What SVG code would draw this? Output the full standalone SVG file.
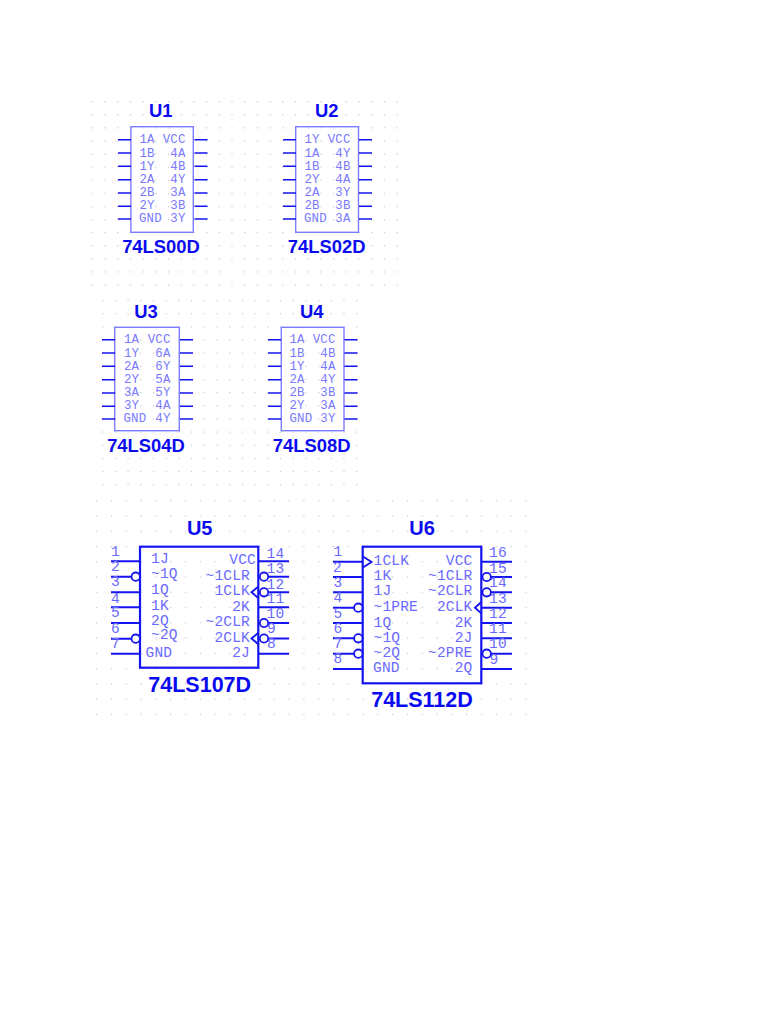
<svg xmlns="http://www.w3.org/2000/svg" width="768" height="1024" viewBox="0 0 768 1024">
<style>
.box{fill:none;stroke:#7c7cff;stroke-width:1.4}
.bx{fill:none;stroke:#1414f0;stroke-width:2.2}
.pin{stroke:#1414f0;stroke-width:1.6;fill:none}
.pn{stroke:#1414f0;stroke-width:1.9;fill:none}
.bub{stroke:#1414f0;stroke-width:1.8;fill:#fff}
.t{font-family:"Liberation Mono",monospace;font-size:12.4px;letter-spacing:.15px;fill:#7a7aff}
.u{font-family:"Liberation Mono",monospace;font-size:14.5px;letter-spacing:.2px;fill:#6a6aff}
.e{text-anchor:end}
.ti{font-family:"Liberation Sans",sans-serif;font-weight:700;fill:#0a0af0;text-anchor:middle;font-size:18.4px}
.tb{font-family:"Liberation Sans",sans-serif;font-weight:700;fill:#0a0af0;text-anchor:middle;font-size:21.5px}
</style>
<defs>
<pattern id="d1" patternUnits="userSpaceOnUse" x="91.7" y="101.1" width="12.7" height="13.1"><rect width="1.2" height="1.2" fill="#c4c4c4"/></pattern>
<pattern id="d2" patternUnits="userSpaceOnUse" x="102.1" y="300" width="12.7" height="13.15"><rect width="1.2" height="1.2" fill="#c4c4c4"/></pattern>
<pattern id="d3" patternUnits="userSpaceOnUse" x="96.1" y="500.1" width="14.8" height="15.26"><rect width="1.2" height="1.2" fill="#c4c4c4"/></pattern>
<g id="p7"><path class="pin" d="M0 0.0H13M0 13.3H13M0 26.6H13M0 40H13M0 53.3H13M0 66.6H13M0 79.3H13"/></g>
</defs>
<g id="grid">
<rect x="90" y="100" width="312" height="187" fill="url(#d1)"/>
<rect x="100" y="299" width="260" height="187" fill="url(#d2)"/>
<rect x="95" y="499" width="433" height="217" fill="url(#d3)"/>
</g>
<g id="U1">
<rect class="box" x="130.9" y="126.7" width="62.4" height="105.6"/>
<use href="#p7" x="118" y="139.7"/><use href="#p7" x="194.5" y="139.7"/>
<g class="t"><text x="139.5" y="143.3">1A</text><text x="139.5" y="156.5">1B</text><text x="139.5" y="169.5">1Y</text><text x="139.5" y="182.5">2A</text><text x="139.5" y="195.7">2B</text><text x="139.5" y="209">2Y</text><text x="139" y="222.3">GND</text>
<text class="e" x="185.5" y="143.3">VCC</text><text class="e" x="185.5" y="156.5">4A</text><text class="e" x="185.5" y="169.5">4B</text><text class="e" x="185.5" y="182.5">4Y</text><text class="e" x="185.5" y="195.7">3A</text><text class="e" x="185.5" y="209">3B</text><text class="e" x="185.5" y="222.3">3Y</text></g>
<text class="ti" x="160.7" y="117.3">U1</text><text class="ti" x="161" y="252.7">74LS00D</text>
</g>
<g id="U2">
<rect class="box" x="295.7" y="126.7" width="62.8" height="105.6"/>
<use href="#p7" x="283" y="139.7"/><use href="#p7" x="359" y="139.7"/>
<g class="t"><text x="304.5" y="143.3">1Y</text><text x="304.5" y="156.5">1A</text><text x="304.5" y="169.5">1B</text><text x="304.5" y="182.5">2Y</text><text x="304.5" y="195.7">2A</text><text x="304.5" y="209">2B</text><text x="304" y="222.3">GND</text>
<text class="e" x="350.5" y="143.3">VCC</text><text class="e" x="350.5" y="156.5">4Y</text><text class="e" x="350.5" y="169.5">4B</text><text class="e" x="350.5" y="182.5">4A</text><text class="e" x="350.5" y="195.7">3Y</text><text class="e" x="350.5" y="209">3B</text><text class="e" x="350.5" y="222.3">3A</text></g>
<text class="ti" x="326.7" y="117.3">U2</text><text class="ti" x="326.7" y="252.7">74LS02D</text>
</g>
<g id="U3">
<rect class="box" x="114.7" y="327.3" width="64.6" height="103.4"/>
<use href="#p7" x="102" y="339.7"/><use href="#p7" x="180" y="339.7"/>
<g class="t"><text x="124" y="343.3">1A</text><text x="124" y="356.5">1Y</text><text x="124" y="369.5">2A</text><text x="124" y="382.5">2Y</text><text x="124" y="395.5">3A</text><text x="124" y="408.7">3Y</text><text x="123.5" y="422">GND</text>
<text class="e" x="170.5" y="343.3">VCC</text><text class="e" x="170.5" y="356.5">6A</text><text class="e" x="170.5" y="369.5">6Y</text><text class="e" x="170.5" y="382.5">5A</text><text class="e" x="170.5" y="395.5">5Y</text><text class="e" x="170.5" y="408.7">4A</text><text class="e" x="170.5" y="422">4Y</text></g>
<text class="ti" x="146" y="317.7">U3</text><text class="ti" x="146" y="451.7">74LS04D</text>
</g>
<g id="U4">
<rect class="box" x="281.3" y="327.3" width="62.7" height="103.4"/>
<use href="#p7" x="268" y="339.7"/><use href="#p7" x="344.5" y="339.7"/>
<g class="t"><text x="289.5" y="343.3">1A</text><text x="289.5" y="356.5">1B</text><text x="289.5" y="369.5">1Y</text><text x="289.5" y="382.5">2A</text><text x="289.5" y="395.5">2B</text><text x="289.5" y="408.7">2Y</text><text x="289.5" y="422">GND</text>
<text class="e" x="335.5" y="343.3">VCC</text><text class="e" x="335.5" y="356.5">4B</text><text class="e" x="335.5" y="369.5">4A</text><text class="e" x="335.5" y="382.5">4Y</text><text class="e" x="335.5" y="395.5">3B</text><text class="e" x="335.5" y="408.7">3A</text><text class="e" x="335.5" y="422">3Y</text></g>
<text class="ti" x="311.7" y="317.7">U4</text><text class="ti" x="311.7" y="451.7">74LS08D</text>
</g>
<g id="U5">
<path class="pn" d="M111 561.3H140M111 576.7H131M111 592.3H140M111 607.3H140M111 623H140M111 638.7H131M111 653.7H140M258 561.3H289M269 576.7H289M269 592.3H289M258 607.3H289M269 623H289M269 638.5H289M258 653.7H289"/>
<g class="u">
<text x="111" y="555.7">1</text><text x="111" y="571">2</text><text x="111" y="586">3</text><text x="111" y="603.3">4</text><text x="111" y="617.3">5</text><text x="111" y="632.7">6</text><text x="111" y="648.3">7</text>
<text x="266.5" y="558">14</text><text x="266.5" y="573.3">13</text><text x="266.5" y="588.7">12</text><text x="266.5" y="603.3">11</text><text x="266.5" y="618.3">10</text><text x="267" y="633.3">9</text><text x="267" y="648.3">8</text>
<text x="151" y="563">1J</text><text x="151" y="578.3">~1Q</text><text x="151" y="594">1Q</text><text x="151" y="610">1K</text><text x="151" y="624.5">2Q</text><text x="151" y="639.3">~2Q</text><text x="145.5" y="657">GND</text>
<text class="e" x="256" y="564.3">VCC</text><text class="e" x="250" y="580">~1CLR</text><text class="e" x="250" y="595">1CLK</text><text class="e" x="250" y="611">2K</text><text class="e" x="250" y="626">~2CLR</text><text class="e" x="250" y="641.7">2CLK</text><text class="e" x="250" y="657">2J</text></g>
<rect class="bx" x="140" y="546.7" width="118.3" height="121"/>
<path class="pn" d="M258 586.8L251.5 592.3L258 597.8M258 633L251.5 638.5L258 644"/>
<circle class="bub" cx="135.7" cy="576.7" r="4.2"/><circle class="bub" cx="135.7" cy="638.7" r="4.2"/>
<circle class="bub" cx="264" cy="576.7" r="4.2"/><circle class="bub" cx="264" cy="592.3" r="4.2"/><circle class="bub" cx="264" cy="623" r="4.2"/><circle class="bub" cx="264" cy="638.5" r="4.2"/>
<text class="ti" style="font-size:20px" x="199.7" y="535">U5</text><text class="tb" x="199.7" y="691.7">74LS107D</text>
</g>
<g id="U6">
<path class="pn" d="M333 561.7H363M333 577H363M333 592.3H363M333 607.7H354M333 623H363M333 638.3H354M333 653.7H354M333 669H363M482 561.7H512M491 577H512M491 592.3H512M482 607.7H512M482 623H512M482 638.3H512M491 653.7H512M482 669H512"/>
<g class="u">
<text x="333.5" y="556.3">1</text><text x="333" y="571.5">2</text><text x="333.5" y="586.7">3</text><text x="333.5" y="601.7">4</text><text x="333.5" y="618.3">5</text><text x="333.5" y="632.7">6</text><text x="333.5" y="648.3">7</text><text x="333.5" y="663.3">8</text>
<text x="489" y="557.3">16</text><text x="489" y="572.7">15</text><text x="489" y="587.3">14</text><text x="489" y="602.7">13</text><text x="489" y="618.3">12</text><text x="489" y="633.3">11</text><text x="489" y="648.3">10</text><text x="489.5" y="664">9</text>
<text x="373.5" y="565">1CLK</text><text x="373.5" y="580">1K</text><text x="373.5" y="595">1J</text><text x="373.5" y="611">~1PRE</text><text x="373.5" y="626.7">1Q</text><text x="373.5" y="641.7">~1Q</text><text x="373.5" y="656.7">~2Q</text><text x="373" y="671.5">GND</text>
<text class="e" x="472.5" y="565">VCC</text><text class="e" x="472.5" y="580">~1CLR</text><text class="e" x="472.5" y="595">~2CLR</text><text class="e" x="472.5" y="610.5">2CLK</text><text class="e" x="472.5" y="626.7">2K</text><text class="e" x="472.5" y="641.7">2J</text><text class="e" x="472.5" y="656.7">~2PRE</text><text class="e" x="472.5" y="672">2Q</text></g>
<rect class="bx" x="362.7" y="546.7" width="118.6" height="136.6"/>
<path class="pn" d="M363 556.5L371.5 562L363 567.5M481.3 602L475 607.7L481.3 613.4"/>
<circle class="bub" cx="358.3" cy="607.7" r="4.2"/><circle class="bub" cx="358.3" cy="638.3" r="4.2"/><circle class="bub" cx="358.3" cy="653.7" r="4.2"/>
<circle class="bub" cx="486.7" cy="577" r="4.2"/><circle class="bub" cx="486.7" cy="592.3" r="4.2"/><circle class="bub" cx="486.7" cy="653.7" r="4.2"/>
<text class="ti" style="font-size:20px" x="422" y="535">U6</text><text class="tb" x="422" y="706.7">74LS112D</text>
</g>
</svg>
